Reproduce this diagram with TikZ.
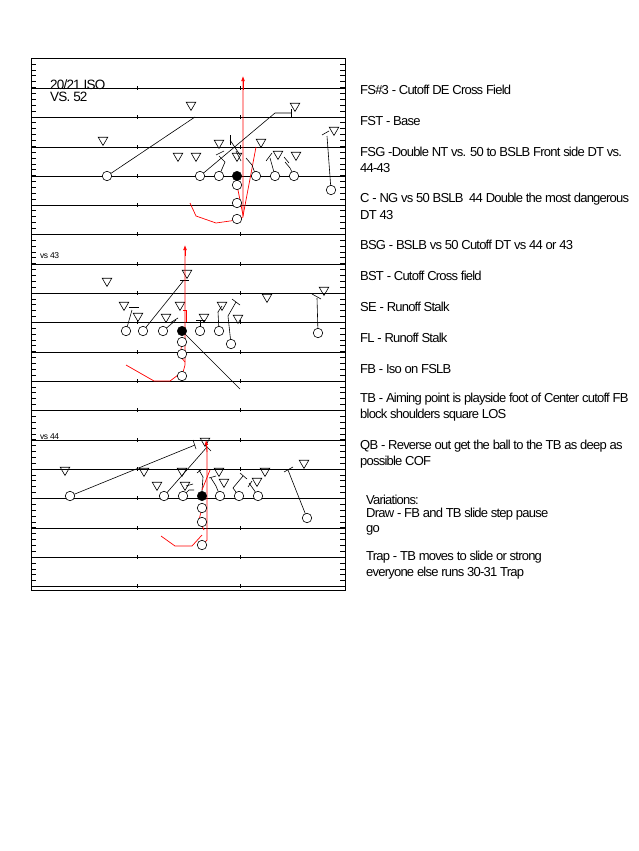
\documentclass[tikz,border=0pt]{standalone}
\usepackage{fontspec}
\setmainfont[LetterSpace=-6]{Liberation Sans}
\usetikzlibrary{shapes.geometric,arrows.meta}
\begin{document}
\begin{tikzpicture}[x=1pt,y=-1pt,
  pl/.style={circle,draw,fill=white,inner sep=0pt,minimum size=9.5pt,line width=0.6pt},
  ctr/.style={circle,draw,fill=black,inner sep=0pt,minimum size=9.5pt},
  df/.style={regular polygon,regular polygon sides=3,shape border rotate=180,draw,inner sep=0pt,minimum size=11pt,line width=0.6pt},
  asg/.style={line width=0.6pt},
  run/.style={red,line width=0.7pt},
  txt/.style={anchor=west,inner sep=0pt,font=\fontsize{13}{14}\selectfont}]
\useasboundingbox (0,0) rectangle (638,851);
% field
\draw[line width=0.7pt] (31,58) rectangle (345,590);
\foreach \y in {88,117,147,176,205,234,264,293,322,352,381,410,440,469,498,528,557,586}{
  \draw[line width=0.7pt] (31,\y) -- (345,\y);
  \draw (137,\y-2) -- (137,\y+2); \draw (240,\y-2) -- (240,\y+2);}
\foreach \i in {1,...,90}{\pgfmathsetmacro\yy{58+5.87*\i}
  \draw[line width=0.3pt] (31,\yy) -- (36,\yy); \draw[line width=0.3pt] (340,\yy) -- (345,\yy);}
% titles
\node[txt,font=\fontsize{13.5}{13.5}\selectfont] (t1) at (50,85) {20/21 ISO};
\node[txt,font=\fontsize{13.5}{13.5}\selectfont] (t2) at (50,97) {VS. 52};
\node[txt,font=\fontsize{8.5}{9}\selectfont] (t3) at (40,256) {vs 43};
\node[txt,font=\fontsize{8.5}{9}\selectfont] (t4) at (40,437) {vs 44};
% ===== top =====
\foreach \n/\x/\y in {a1/103/140,a2/191/105,a3/295/106,a4/334/130,a5/219/143,a6/261/142,a7/178/156,a8/196/156,a9/237/156,a10/278/154,a11/296/155}
  \node[df] (\n) at (\x,\y) {};
\draw[run] (237,219) -- (243,217) -- (243,80);
\draw[run,-{Latex[length=5pt]}] (243,90) -- (243,76);
\draw[run] (190,203) -- (196,216) -- (216,223) -- (237,220);
\draw[run] (237,185) -- (243,215);
\draw[run] (243,216) -- (256,147);
\draw[asg] (107,176) -- (195,117); \draw[asg] (190,117) -- (198,117);
\draw[asg] (200,176) -- (275,113) -- (291,113); \draw[asg] (291,109) -- (291,117);
\draw[asg] (219,176) -- (225,162) -- (219,156); \draw[asg] (216,155) -- (224,151);
\draw[asg] (256,176) -- (252,165) -- (246,158); \draw[asg] (241,161) -- (236,151);
\draw[asg] (275,176) -- (272,165) -- (270,158); \draw[asg] (266,161) -- (272,153);
\draw[asg] (294,176) -- (290,168) -- (285,162); \draw[asg] (284,157) -- (289,163);
\draw[asg] (331,190) -- (327,136); \draw[asg] (322,135) -- (329,131);
\draw[asg] (230,135) -- (230,145); \draw[asg] (230,140) -- (240,155);
\foreach \n/\x/\y in {b1/107/176,b2/200/176,b3/219/176,b5/256/176,b6/275/176,b7/294/176,b8/237/185,b9/237/203,b10/237/219,b11/331/190}
  \node[pl] (\n) at (\x,\y) {};
\node[ctr] (b4) at (237,176) {};
% ===== middle =====
\foreach \n/\x/\y in {c1/107/281,c2/187/273,c3/124/305,c4/138/316,c5/180/305,c6/166/317,c7/204/317,c8/222/305,c9/238/318,c10/267/297,c11/324/290}
  \node[df] (\n) at (\x,\y) {};
\draw[asg] (182,331) -- (240,389);
\draw[asg] (143,331) -- (184,280); \draw[asg] (180,280) -- (189,280);
\draw[asg] (126,331) -- (132,310); \draw[asg] (129,307) -- (139,307);
\draw[asg] (163,331) -- (176,320); \draw[asg] (170,323) -- (178,318);
\draw[asg] (200,331) -- (200,320); \draw[asg] (196,320) -- (205,320);
\draw[asg] (219,331) -- (218,312) -- (222,306);
\draw[asg] (231,344) -- (228,316) -- (236,302); \draw[asg] (232,299) -- (240,305);
\draw[asg] (318,333) -- (317,298); \draw[asg] (312,294) -- (321,299);
\draw[run] (182,376) -- (185,365) -- (185,250);
\draw[run,-{Latex[length=5pt]}] (185,256) -- (185,245);
\draw[run] (126,365) -- (154,381) -- (170,381) -- (182,372);
\draw[run] (182,342) -- (180,356) -- (185,362);
\draw[run] (183,310) -- (186,310) -- (186,322);
\foreach \n/\x/\y in {d1/126/331,d2/143/331,d3/163/331,d5/200/331,d6/219/331,d7/182/342,d8/182/354,d9/182/376,d10/231/344,d11/318/333}
  \node[pl] (\n) at (\x,\y) {};
\node[ctr] (d4) at (182,331) {};
% ===== bottom =====
\foreach \n/\x/\y in {e1/205/441,e2/65/470,e3/144/471,e4/182/471,e5/219/471,e6/265/471,e7/304/463,e8/157/485,e9/185/485,e10/224/482,e11/257/481}
  \node[df] (\n) at (\x,\y) {};
\draw[asg] (70,496) -- (195,445); \draw[asg] (193,440) -- (196,449);
\draw[asg] (164,496) -- (207,447) -- (211,451);
\draw[asg] (183,496) -- (189,490) -- (194,490); \draw[asg] (186,486) -- (193,484);
\draw[asg] (202,491) -- (203,477) -- (199,470); \draw[asg] (197,473) -- (202,469);
\draw[asg] (220,496) -- (216,486) -- (211,478); \draw[asg] (209,478) -- (216,476);
\draw[asg] (239,496) -- (233,488) -- (243,476); \draw[asg] (240,473) -- (247,479);
\draw[asg] (258,496) -- (254,490) -- (249,483); \draw[asg] (248,487) -- (252,481);
\draw[asg] (307,518) -- (288,470); \draw[asg] (284,472) -- (293,467);
\draw[run] (202,545) -- (207,540) -- (207,446);
\draw[run,-{Latex[length=5pt]}] (207,452) -- (206,440);
\draw[run] (161,536) -- (175,546) -- (192,546) -- (202,535);
\draw[run] (202,508) -- (199,520) -- (204,530);
\draw[run] (202,490) -- (210,470);
\foreach \n/\x/\y in {f1/70/496,f2/164/496,f3/183/496,f5/220/496,f6/239/496,f7/258/496,f8/202/508,f9/202/522,f10/202/545,f11/307/518}
  \node[pl] (\n) at (\x,\y) {};
\node[ctr] (f4) at (202,496) {};
% ===== text =====
\node[txt] (n1) at (360,90) {FS\#3 - Cutoff DE Cross Field};
\node[txt] (n2) at (360,121) {FST - Base};
\node[txt] (n3) at (360,152) {FSG -Double NT vs. 50 to BSLB Front side DT vs.};
\node[txt] (n3b) at (360,168) {44-43};
\node[txt] (n4) at (360,199) {C - NG vs 50 BSLB \ 44 Double the most dangerous};
\node[txt] (n4b) at (360,215) {DT 43};
\node[txt] (n5) at (360,245) {BSG - BSLB vs 50 Cutoff DT vs 44 or 43};
\node[txt] (n6) at (360,276) {BST - Cutoff Cross field};
\node[txt] (n7) at (360,307) {SE - Runoff Stalk};
\node[txt] (n8) at (360,338) {FL - Runoff Stalk};
\node[txt] (n9) at (360,369) {FB - Iso on FSLB};
\node[txt] (n10) at (360,399) {TB - Aiming point is playside foot of Center cutoff FB};
\node[txt] (n10b) at (360,415) {block shoulders square LOS};
\node[txt] (n11) at (360,446) {QB - Reverse out get the ball to the TB as deep as};
\node[txt] (n11b) at (360,462) {possible COF};
\node[txt] (v1) at (366,500) {Variations:};
\node[txt] (v2) at (366,514) {Draw - FB and TB slide step pause};
\node[txt] (v3) at (366,530) {go};
\node[txt] (v4) at (366,557) {Trap - TB moves to slide or strong};
\node[txt] (v5) at (366,573) {everyone else runs 30-31 Trap};
\end{tikzpicture}
\end{document}
